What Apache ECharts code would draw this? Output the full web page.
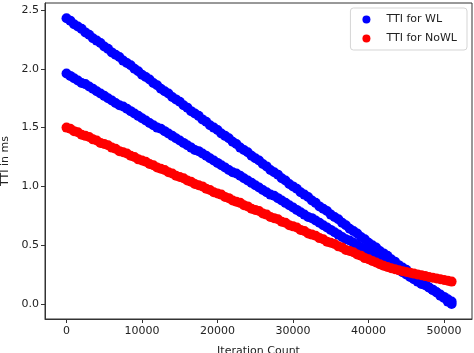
<!DOCTYPE html>
<html>
<head>
<meta charset="utf-8">
<script src="https://cdn.jsdelivr.net/npm/echarts@6/dist/echarts.min.js"></script>
<style>
  html, body { margin: 0; padding: 0; background: #fff; }
  #main { width: 474px; height: 353px; }
</style>
</head>
<body>
<div id="main"></div>
<script>
// iteration count (x), one sample every 500 iterations
const iterations = [0, 500, 1000, 1500, 2000, 2500, 3000, 3500, 4000, 4500,
  5000, 5500, 6000, 6500, 7000, 7500, 8000, 8500, 9000, 9500,
  10000, 10500, 11000, 11500, 12000, 12500, 13000, 13500, 14000, 14500,
  15000, 15500, 16000, 16500, 17000, 17500, 18000, 18500, 19000, 19500,
  20000, 20500, 21000, 21500, 22000, 22500, 23000, 23500, 24000, 24500,
  25000, 25500, 26000, 26500, 27000, 27500, 28000, 28500, 29000, 29500,
  30000, 30500, 31000, 31500, 32000, 32500, 33000, 33500, 34000, 34500,
  35000, 35500, 36000, 36500, 37000, 37500, 38000, 38500, 39000, 39500,
  40000, 40500, 41000, 41500, 42000, 42500, 43000, 43500, 44000, 44500,
  45000, 45500, 46000, 46500, 47000, 47500, 48000, 48500, 49000, 49500,
  50000, 50500, 51000];

// TTI for WL, upper run
const wlUpper = [2.43, 2.41, 2.38, 2.36, 2.34, 2.31, 2.29, 2.26, 2.24, 2.22,
  2.19, 2.17, 2.14, 2.12, 2.10, 2.07, 2.05, 2.03, 2.00, 1.98,
  1.95, 1.93, 1.91, 1.88, 1.86, 1.83, 1.81, 1.79, 1.76, 1.74,
  1.72, 1.69, 1.67, 1.64, 1.62, 1.60, 1.57, 1.55, 1.52, 1.50,
  1.48, 1.45, 1.43, 1.41, 1.38, 1.36, 1.33, 1.31, 1.29, 1.26,
  1.24, 1.22, 1.19, 1.17, 1.14, 1.12, 1.10, 1.07, 1.05, 1.02,
  1.00, 0.98, 0.95, 0.93, 0.91, 0.88, 0.86, 0.83, 0.81, 0.79,
  0.76, 0.74, 0.72, 0.69, 0.67, 0.64, 0.62, 0.60, 0.57, 0.55,
  0.52, 0.50, 0.48, 0.45, 0.43, 0.41, 0.38, 0.36, 0.33, 0.31,
  0.29, 0.26, 0.24, 0.21, 0.19, 0.17, 0.14, 0.12, 0.10, 0.07,
  0.05, 0.02, 0.00];

// TTI for WL, lower run
const wlLower = [1.96, 1.94, 1.92, 1.90, 1.88, 1.87, 1.85, 1.83, 1.81, 1.79,
  1.77, 1.75, 1.73, 1.71, 1.69, 1.68, 1.66, 1.64, 1.62, 1.60,
  1.58, 1.56, 1.54, 1.52, 1.50, 1.49, 1.47, 1.45, 1.43, 1.41,
  1.39, 1.37, 1.35, 1.33, 1.31, 1.30, 1.28, 1.26, 1.24, 1.22,
  1.20, 1.18, 1.16, 1.14, 1.12, 1.11, 1.09, 1.07, 1.05, 1.03,
  1.01, 0.99, 0.97, 0.95, 0.93, 0.92, 0.90, 0.88, 0.86, 0.84,
  0.82, 0.80, 0.78, 0.76, 0.74, 0.73, 0.71, 0.69, 0.67, 0.65,
  0.63, 0.61, 0.59, 0.57, 0.55, 0.54, 0.52, 0.50, 0.48, 0.46,
  0.44, 0.42, 0.40, 0.38, 0.36, 0.35, 0.33, 0.31, 0.29, 0.27,
  0.25, 0.23, 0.21, 0.19, 0.17, 0.16, 0.14, 0.12, 0.10, 0.08,
  0.06, 0.04, 0.02];

// TTI for NoWL
const noWl = [1.50, 1.49, 1.47, 1.46, 1.44, 1.43, 1.42, 1.40, 1.39, 1.37,
  1.36, 1.35, 1.33, 1.32, 1.30, 1.29, 1.28, 1.26, 1.25, 1.23,
  1.22, 1.21, 1.19, 1.18, 1.16, 1.15, 1.14, 1.12, 1.11, 1.09,
  1.08, 1.07, 1.05, 1.04, 1.02, 1.01, 1.00, 0.98, 0.97, 0.95,
  0.94, 0.93, 0.91, 0.90, 0.88, 0.87, 0.86, 0.84, 0.83, 0.81,
  0.80, 0.79, 0.77, 0.76, 0.74, 0.73, 0.72, 0.70, 0.69, 0.67,
  0.66, 0.65, 0.63, 0.62, 0.60, 0.59, 0.58, 0.56, 0.55, 0.53,
  0.52, 0.51, 0.49, 0.48, 0.46, 0.45, 0.44, 0.42, 0.41, 0.39,
  0.38, 0.366, 0.352, 0.338, 0.325, 0.314, 0.304, 0.295, 0.287, 0.279,
  0.272, 0.265, 0.258, 0.251, 0.244, 0.237, 0.230, 0.223, 0.217, 0.210,
  0.203, 0.197, 0.190];

const xTicks = [0, 10000, 20000, 30000, 40000, 50000];
const yTicks = [0, 0.5, 1.0, 1.5, 2.0, 2.5];

const toPoints = (xs, ys) => xs.map((x, i) => [x, ys[i]]);

const myChart = echarts.init(document.getElementById('main'), null, { renderer: 'canvas' });

const axisFont = { fontFamily: 'DejaVu Sans', fontSize: 11, color: '#222' };

const option = {
  animation: false,
  grid: {
    left: 45, right: 2, top: 3, bottom: 34,
    outerBoundsMode: 'none',
    containLabel: false,
    show: true, borderColor: '#333', borderWidth: 1,
    backgroundColor: '#fff'
  },
  legend: {
    right: 7, top: 8,
    orient: 'vertical',
    itemWidth: 8, itemHeight: 8, itemGap: 8,
    padding: [6, 10, 6, 12],
    borderColor: '#d5d5d5', borderWidth: 1, borderRadius: 3,
    backgroundColor: '#fff',
    textStyle: { fontFamily: 'DejaVu Sans', fontSize: 11, color: '#222', padding: [0, 0, 0, 11] },
    data: [
      { name: 'TTI for WL', icon: 'circle' },
      { name: 'TTI for NoWL', icon: 'circle' }
    ]
  },
  xAxis: {
    type: 'value',
    min: -2850, max: 53700,
    name: 'Iteration Count',
    nameLocation: 'middle',
    nameGap: 27,
    nameTextStyle: axisFont,
    splitLine: { show: false },
    axisLine: { show: true, onZero: false, lineStyle: { color: '#333' } },
    axisTick: { show: true, length: 4, customValues: xTicks, lineStyle: { color: '#333' } },
    axisLabel: { ...axisFont, margin: 7, customValues: xTicks, formatter: v => String(v) }
  },
  yAxis: {
    type: 'value',
    min: -0.128, max: 2.56,
    name: 'TTI in ms',
    nameLocation: 'middle',
    nameGap: 26,
    nameTextStyle: axisFont,
    splitLine: { show: false },
    axisLine: { show: true, onZero: false, lineStyle: { color: '#333' } },
    axisTick: { show: true, length: 4, customValues: yTicks, lineStyle: { color: '#333' } },
    axisLabel: { ...axisFont, margin: 6, customValues: yTicks, formatter: v => v.toFixed(1) }
  },
  series: [
    {
      name: 'TTI for WL',
      type: 'scatter',
      symbolSize: 10,
      itemStyle: { color: '#0000ff', opacity: 1 },
      data: toPoints(iterations, wlUpper).concat(toPoints(iterations, wlLower))
    },
    {
      name: 'TTI for NoWL',
      type: 'scatter',
      symbolSize: 10,
      itemStyle: { color: '#ff0000', opacity: 1 },
      data: toPoints(iterations, noWl)
    }
  ]
};

option && myChart.setOption(option);
</script>
</body>
</html>
